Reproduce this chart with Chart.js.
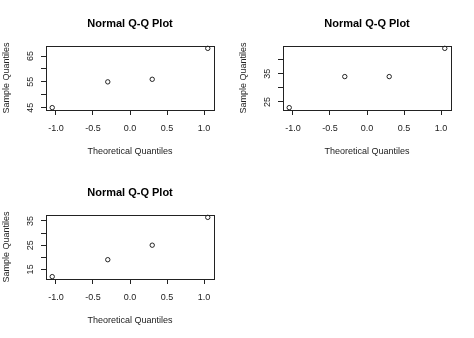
<!DOCTYPE html>
<html>
<head>
<meta charset="utf-8">
<script src="https://cdn.jsdelivr.net/npm/chart.js@4.4.1/dist/chart.umd.min.js"></script>
<style>
    body { margin: 0; background: #fff; }
    #grid {
        display: grid;
        grid-template-columns: 237px 237px;
        grid-template-rows: 169px 169px;
        width: 474px;
        height: 338px;
    }
    .cell { width: 237px; height: 169px; }
    canvas { display: block; }
</style>
</head>
<body>
<div id="grid">
    <div class="cell"><canvas id="qqA" width="237" height="169"></canvas></div>
    <div class="cell"><canvas id="qqB" width="237" height="169"></canvas></div>
    <div class="cell"><canvas id="qqC" width="237" height="169"></canvas></div>
    <div class="cell"></div>
</div>
<script>
// Theoretical normal quantiles for 4 observations
const theoretical = [-1.05, -0.30, 0.30, 1.05];
const xTicks = [-1.0, -0.5, 0.0, 0.5, 1.0];

// Sample quantiles, one array per panel
const sampleA = [45, 55, 56, 68];
const sampleB = [23, 34, 34, 44];
const sampleC = [12, 19, 25, 36.5];

// Tick marks, and the subset of them that carries a label
const yTicksA = [45, 50, 55, 60, 65];
const yTicksB = [25, 30, 35, 40];
const yTicksC = [15, 20, 25, 30, 35];
const yLabelsA = [45, 55, 65];
const yLabelsB = [25, 35];
const yLabelsC = [15, 25, 35];

const INK = '#222';
const FONT = '"Liberation Sans", Arial, sans-serif';

// Extend a data range by 4% on each side
function padRange(values) {
    const lo = Math.min(...values);
    const hi = Math.max(...values);
    const ext = (hi - lo) * 0.04;
    return { min: lo - ext, max: hi + ext };
}

// Frame around the plotting region
const boxPlugin = {
    id: 'plotBox',
    afterDraw(chart) {
        const { ctx, chartArea: a } = chart;
        ctx.save();
        ctx.strokeStyle = INK;
        ctx.lineWidth = 1;
        ctx.strokeRect(a.left + 0.5, a.top + 0.5, a.right - a.left, a.bottom - a.top);
        ctx.restore();
    }
};

function axisStyle() {
    return {
        grid: {
            drawOnChartArea: false,
            drawTicks: true,
            tickLength: 5,
            color: INK,
            lineWidth: 1
        },
        border: { display: false }
    };
}

function makeQQ(canvasId, sample, yTicks, yLabels) {
    const xr = padRange(theoretical);
    const yr = padRange(sample);
    const ctx = document.getElementById(canvasId).getContext('2d');

    return new Chart(ctx, {
        type: 'scatter',
        data: {
            datasets: [{
                data: theoretical.map((x, i) => ({ x: x, y: sample[i] })),
                pointStyle: 'circle',
                pointRadius: 2.2,
                pointBorderWidth: 1,
                pointBorderColor: INK,
                pointBackgroundColor: 'rgba(0,0,0,0)',
                clip: false
            }]
        },
        options: {
            responsive: false,
            animation: false,
            events: [],
            devicePixelRatio: 1,
            layout: { padding: { left: 0, right: 23, top: 0, bottom: 0 } },
            plugins: {
                legend: { display: false },
                tooltip: { enabled: false },
                title: {
                    display: true,
                    text: 'Normal Q-Q Plot',
                    fullSize: false,
                    color: '#000',
                    font: { family: FONT, size: 11, weight: 'bold' },
                    padding: { top: 17.7, bottom: 15.1 }
                }
            },
            scales: {
                x: {
                    type: 'linear',
                    min: xr.min,
                    max: xr.max,
                    afterBuildTicks: s => { s.ticks = xTicks.map(v => ({ value: v })); },
                    afterFit: s => { s.height = 59; },
                    ticks: {
                        color: INK,
                        font: { family: FONT, size: 9 },
                        padding: 8,
                        autoSkip: false,
                        maxRotation: 0,
                        callback: v => v.toFixed(1)
                    },
                    title: {
                        display: true,
                        text: 'Theoretical Quantiles',
                        color: INK,
                        font: { family: FONT, size: 9 },
                        padding: { top: 0, bottom: 12 }
                    },
                    ...axisStyle()
                },
                y: {
                    type: 'linear',
                    min: yr.min,
                    max: yr.max,
                    afterBuildTicks: s => { s.ticks = yTicks.map(v => ({ value: v })); },
                    afterFit: s => { s.width = 46; },
                    ticks: {
                        color: INK,
                        font: { family: FONT, size: 9 },
                        padding: 5,
                        autoSkip: false,
                        minRotation: 90,
                        maxRotation: 90,
                        crossAlign: 'center',
                        callback: v => yLabels.includes(v) ? String(v) : ''
                    },
                    title: {
                        display: true,
                        text: 'Sample Quantiles',
                        color: INK,
                        font: { family: FONT, size: 9 },
                        padding: { top: 1.5, bottom: 0 }
                    },
                    ...axisStyle()
                }
            }
        },
        plugins: [boxPlugin]
    });
}

makeQQ('qqA', sampleA, yTicksA, yLabelsA);
makeQQ('qqB', sampleB, yTicksB, yLabelsB);
makeQQ('qqC', sampleC, yTicksC, yLabelsC);
</script>
</body>
</html>
